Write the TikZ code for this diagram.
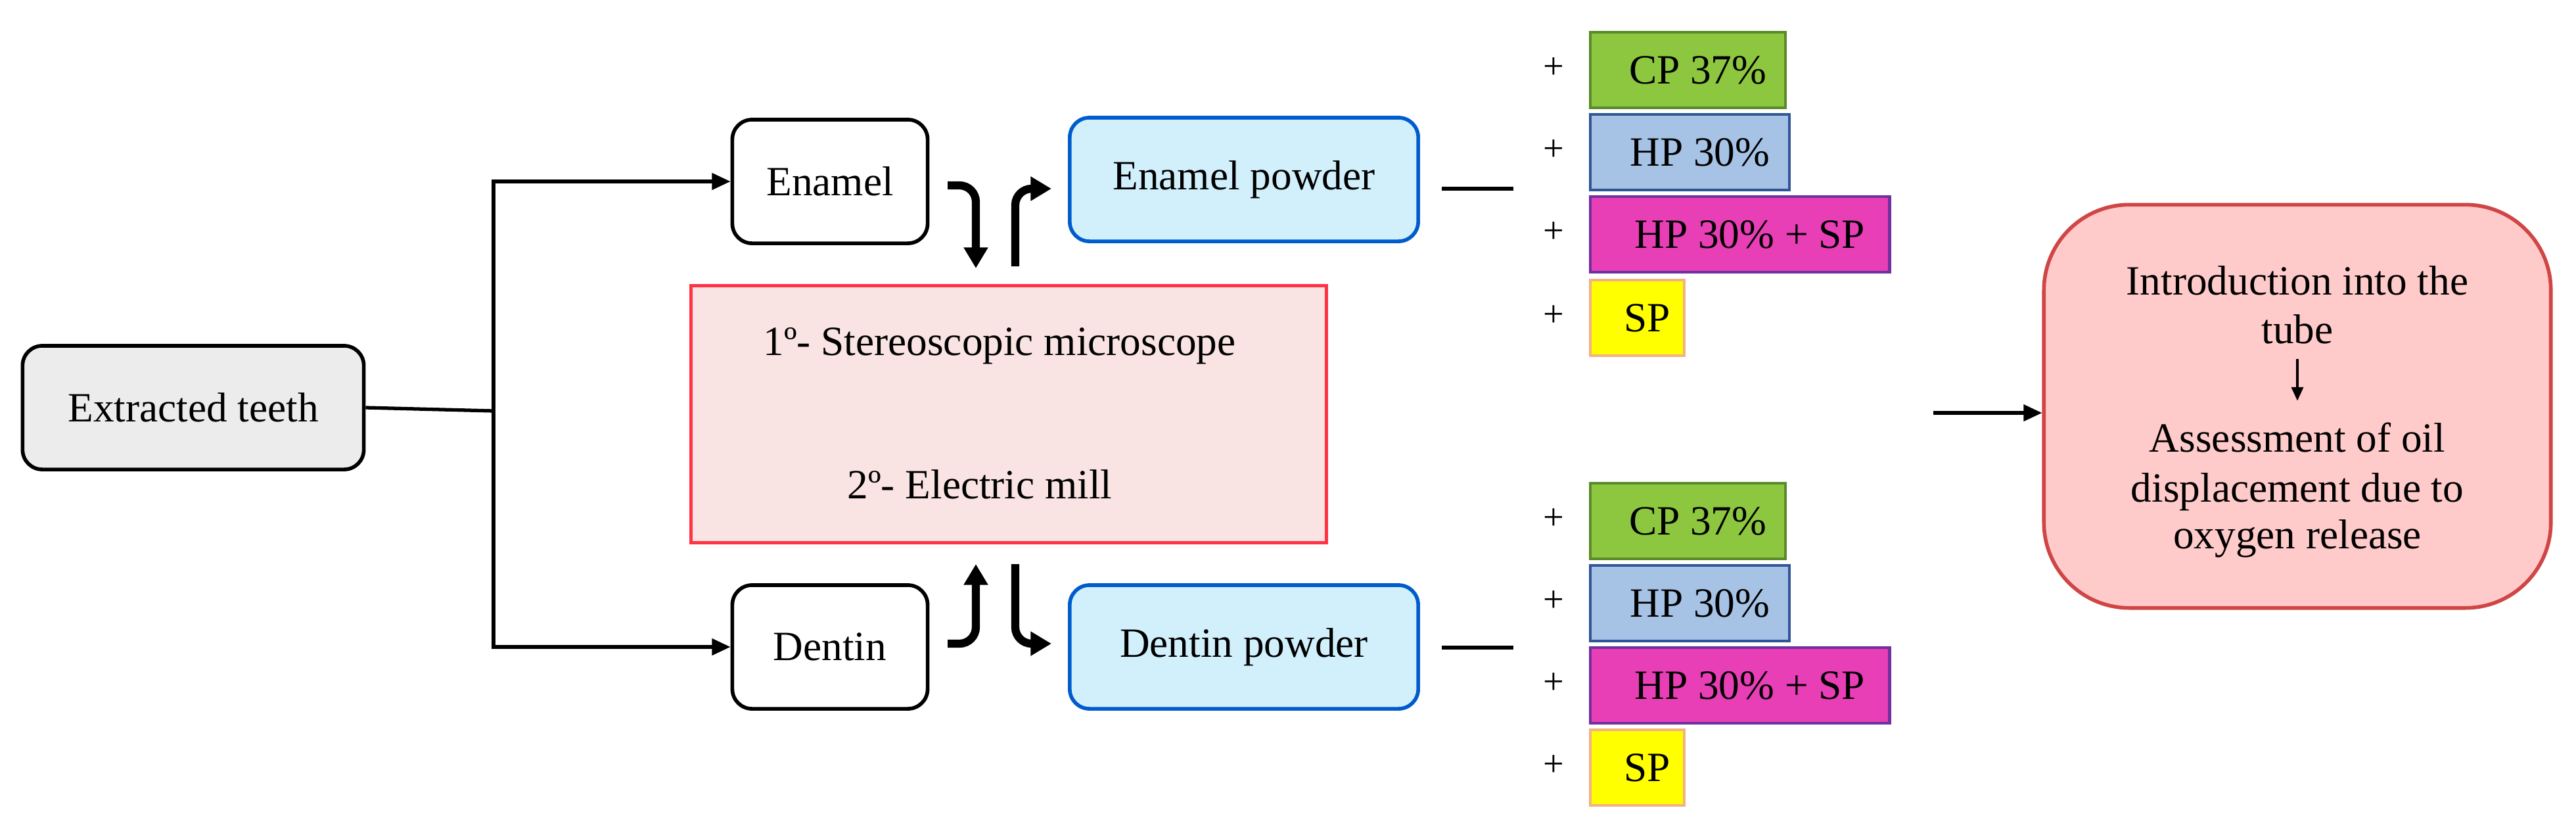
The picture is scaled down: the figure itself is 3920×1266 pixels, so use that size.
\documentclass[tikz,border=0pt]{standalone}
\usepackage{fontspec}
\setmainfont{Liberation Serif}
\usetikzlibrary{arrows.meta}
\begin{document}
\begin{tikzpicture}[x=0.01cm,y=-0.01cm,
  every node/.style={font=\fontsize{18}{20}\selectfont},
  box/.style={draw, line width=1.6pt, rounded corners=0.3cm, minimum height=1.88cm, inner sep=0pt},
  pow/.style={box, draw=blue!55!cyan!80!black, fill=cyan!18},
  tag/.style={draw, line width=1.2pt, minimum height=1.15cm, inner sep=0pt, anchor=north west, align=left, text depth=0pt},
  conn/.style={line width=1.5pt},
  arr/.style={line width=1.5pt, -{Triangle[length=8pt,width=7pt]}},
  tarr/.style={line width=3.5pt, rounded corners=0.25cm, -{Triangle[length=9pt,width=10pt]}},
  plus/.style={font=\fontsize{16}{18}\selectfont}]
\useasboundingbox (0,0) rectangle (3920,1266);
\definecolor{gr}{HTML}{8DC63F}\definecolor{grd}{HTML}{5B8A2B}
\definecolor{bl}{HTML}{A6C3E6}\definecolor{bld}{HTML}{2F5597}
\definecolor{mg}{HTML}{E83EB6}\definecolor{mgd}{HTML}{7030A0}
\definecolor{ye}{HTML}{FFFF00}\definecolor{yed}{HTML}{F4B183}
\definecolor{pk}{HTML}{F9E3E3}\definecolor{rd}{HTML}{FF3344}
\definecolor{rp}{HTML}{FFCACA}\definecolor{rpd}{HTML}{D04545}

\node[box, fill=gray!15, minimum width=5.19cm] (teeth) at (294,620) {Extracted teeth};
\node[box, fill=white, minimum width=2.97cm] (enamel) at (1263,276) {Enamel};
\node[box, fill=white, minimum width=2.97cm] (dentin) at (1263,984) {Dentin};
\node[pow, minimum width=5.3cm] (epow) at (1893,273) {Enamel powder};
\node[pow, minimum width=5.3cm] (dpow) at (1893,984) {Dentin powder};
\node[draw=rd, line width=1.4pt, fill=pk, minimum width=9.67cm, minimum height=3.91cm] (mill) at (1535,630) {};
\node (l1) at (1521,526) {1º- Stereoscopic microscope};
\node (l2) at (1491,737) {2º- Electric mill};

\coordinate (br) at (751,625);
\draw[conn] (teeth.east) -- (br);
\draw[arr] (br) |- (enamel.west);
\draw[arr] (br) |- (dentin.west);

% thick curved arrows
\coordinate (e1) at (1442,282); \coordinate (e2) at (1485,408);
\coordinate (e3) at (1545,405); \coordinate (e4) at (1600,287);
\draw[tarr] (e1) -| (e2);
\draw[tarr] (e3) |- (e4);
\coordinate (d1) at (1442,979); \coordinate (d2) at (1485,858);
\coordinate (d3) at (1545,858); \coordinate (d4) at (1600,979);
\draw[tarr] (d1) -| (d2);
\draw[tarr] (d3) |- (d4);

% dashes
\coordinate (ea) at (2194,287); \coordinate (eb) at (2303,287);
\coordinate (da) at (2194,985); \coordinate (db) at (2303,985);
\draw[conn] (ea) -- (eb);
\draw[conn] (da) -- (db);

% upper group
\node[tag, draw=grd, fill=gr, minimum width=2.97cm] (c1) at (2418,47) {\hspace{0.3cm}CP 37\%};
\node[tag, draw=bld, fill=bl, minimum width=3.03cm] (h1) at (2418,172) {\hspace{0.3cm}HP 30\%};
\node[tag, draw=mgd, fill=mg, minimum width=4.55cm] (m1) at (2418,297) {\hspace{0.3cm}HP 30\% + SP};
\node[tag, draw=yed, fill=ye, minimum width=1.43cm] (s1) at (2418,424) {\hspace{0.3cm}SP};
\node[plus] (p1) at (2364,104) {+};
\node[plus] (p2) at (2364,229) {+};
\node[plus] (p3) at (2364,354) {+};
\node[plus] (p4) at (2364,481) {+};
% lower group
\node[tag, draw=grd, fill=gr, minimum width=2.97cm] (c2) at (2418,733) {\hspace{0.3cm}CP 37\%};
\node[tag, draw=bld, fill=bl, minimum width=3.03cm] (h2) at (2418,858) {\hspace{0.3cm}HP 30\%};
\node[tag, draw=mgd, fill=mg, minimum width=4.55cm] (m2) at (2418,983) {\hspace{0.3cm}HP 30\% + SP};
\node[tag, draw=yed, fill=ye, minimum width=1.43cm] (s2) at (2418,1108) {\hspace{0.3cm}SP};
\node[plus] (q1) at (2364,790) {+};
\node[plus] (q2) at (2364,915) {+};
\node[plus] (q3) at (2364,1040) {+};
\node[plus] (q4) at (2364,1165) {+};

% final box
\node[draw=rpd, line width=1.6pt, fill=rp, rounded corners=1.3cm, minimum width=7.71cm, minimum height=6.13cm] (fin) at (3496,618) {};
\node (f1) at (3496,427) {Introduction into the};
\node (f2) at (3496,501) {tube};
\node (f3) at (3496,666) {Assessment of oil};
\node (f4) at (3496,748) {displacement due to};
\node (f5) at (3496,819) {oxygen release};
\draw[line width=1.3pt, -{Triangle[length=6pt,width=5pt]}] (f2.south) ++(0,10) -- ([yshift=6]f3.north);
\coordinate (fa) at (2942,628);
\draw[arr] (fa) -- (fin.west |- fa);
\end{tikzpicture}
\end{document}
